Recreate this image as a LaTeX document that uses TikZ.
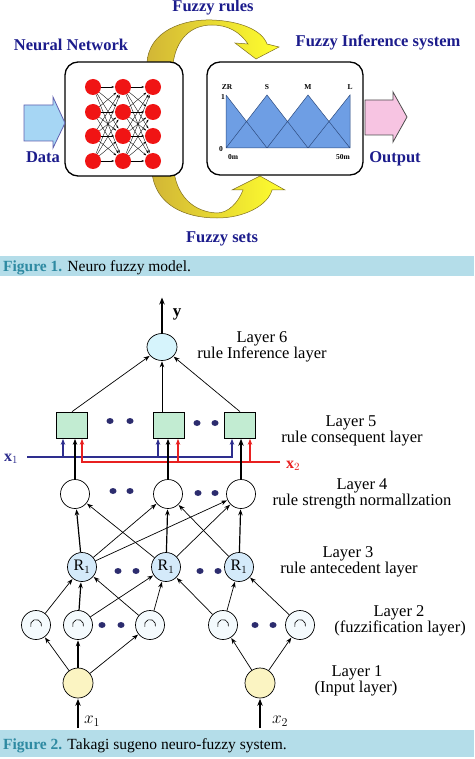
\documentclass[tikz,border=0pt]{standalone}
\usepackage{fontspec}
\setmainfont{Liberation Serif}
\usetikzlibrary{positioning,arrows.meta,shapes.geometric}

\definecolor{navy}{HTML}{1C1C8C}
\definecolor{nnred}{HTML}{F01414}
\definecolor{datablue}{HTML}{A6D6F4}
\definecolor{outpink}{HTML}{F7C4E2}
\definecolor{fzblue}{HTML}{6E9EE4}
\definecolor{fzline}{HTML}{2E4C80}
\definecolor{goldL}{HTML}{D2B636}
\definecolor{yellowR}{HTML}{FFFF2E}
\definecolor{capblue}{HTML}{B4DDE9}
\definecolor{capteal}{HTML}{2E8AA2}
\definecolor{topcyan}{HTML}{D6F4FC}
\definecolor{boxgreen}{HTML}{C2ECD2}
\definecolor{rblue}{HTML}{D4EAFA}
\definecolor{fuzwhite}{HTML}{F4FAFD}
\definecolor{inyellow}{HTML}{FBF4C2}
\definecolor{dotblue}{HTML}{2C2C6E}
\definecolor{xone}{HTML}{2E2E8E}
\definecolor{xtwo}{HTML}{E82020}

\begin{document}
\begin{tikzpicture}[x=1pt,y=-1pt,shorten >=0.5pt,
    lbl/.style={text=navy,font=\bfseries\fontsize{16.5}{16.5}\selectfont,anchor=base,inner sep=0pt},
    ltxt/.style={font=\fontsize{16.5}{16.5}\selectfont,anchor=base,inner sep=0pt},
    nbox/.style={draw,rectangle,rounded corners=13pt,line width=1.3pt,fill=white},
    rnode/.style={circle,fill=nnred,minimum size=16pt,inner sep=0pt},
    mesh/.style={-{Stealth[length=3pt,width=2pt]},line width=0.35pt},
    arr/.style={-{Stealth[length=6pt,width=4.5pt]},line width=0.7pt},
    varr/.style={arr,line width=1.2pt},
    thickarr/.style={-{Stealth[length=7pt,width=5.5pt]},line width=2pt},
    bluearr/.style={-{Stealth[length=6pt,width=4.5pt]},line width=1.1pt,draw=xone},
    redarr/.style={-{Stealth[length=6pt,width=4.5pt]},line width=1.1pt,draw=xtwo},
    l6node/.style={ellipse,draw,fill=topcyan,minimum width=30pt,minimum height=27pt,line width=0.7pt},
    l5box/.style={rectangle,draw,fill=boxgreen,minimum width=31pt,minimum height=26pt,line width=0.7pt},
    l4node/.style={circle,draw,fill=white,minimum size=29pt,inner sep=0pt,line width=0.7pt},
    l3node/.style={circle,draw,fill=rblue,minimum size=29pt,inner sep=0pt,line width=0.7pt,font=\fontsize{16}{16}\selectfont},
    l2node/.style={circle,draw,fill=fuzwhite,minimum size=29pt,inner sep=0pt,line width=0.7pt,
      path picture={\draw[line width=0.6pt] ([shift={(200:5.5pt)}]path picture bounding box.center) arc (200:-20:5.5pt);}},
    l1node/.style={circle,draw,fill=inyellow,minimum size=30pt,inner sep=0pt,line width=0.7pt},
    dotp/.style={ellipse,fill=dotblue,minimum width=7pt,minimum height=6pt,inner sep=0pt}]
  \useasboundingbox (0,0) rectangle (474,759);

  % ---------- Figure 1 ----------
  % curved arrows behind the boxes
  \shadedraw[left color=goldL,right color=yellowR,draw=goldL!60!black,line width=0.5pt]
    (147,64) .. controls (148,30) and (185,19) .. (212,20) .. controls (240,21) and (262,30) .. (267,44)
    -- (279,47) -- (256,59) -- (235,43) -- (248,44) .. controls (240,32) and (228,25) .. (212,25)
    .. controls (190,25) and (176,40) .. (173,64) -- cycle;
  \shadedraw[left color=goldL,right color=yellowR,draw=goldL!60!black,line width=0.5pt]
    (152,172) .. controls (155,205) and (185,218) .. (217,218) .. controls (245,218) and (268,205) .. (272,190)
    -- (285,190) -- (260,176) -- (232,190) -- (243,190) .. controls (238,203) and (228,213) .. (217,213)
    .. controls (195,212) and (178,198) .. (174,172) -- cycle;

  \node[nbox,minimum width=118pt,minimum height=114pt] (nnbox) at (124,119) {};
  \node[nbox,minimum width=156pt,minimum height=113pt] (fisbox) at (285,118.5) {};

  % neural network
  \foreach \c/\x in {1/93,2/123,3/153}
    \foreach \r/\y in {1/87,2/112,3/136,4/161}
      \node[rnode] (n\c\r) at (\x,\y) {};
  \foreach \r in {1,...,4}
    \foreach \s in {1,...,4} {
      \draw[mesh] (n1\r) -- (n2\s);
      \draw[mesh] (n2\r) -- (n3\s);
    }

  % membership functions
  \fill[fzblue] (226,95) -- (246.5,121.5) -- (267,95) -- (287.5,121.5) -- (308,95) -- (329,121.5)
    -- (350,95) -- (350,148) -- (226,148) -- cycle;
  \draw[fzline,line width=0.5pt] (226,95) -- (267,148) (226,148) -- (267,95) -- (308,148)
    (267,148) -- (308,95) -- (350,148) (308,148) -- (350,95) -- (350,148) -- (226,148) -- (226,95);
  \foreach \t/\x in {ZR/227,S/267,M/308,L/350}
    \node[font=\bfseries\fontsize{7.5}{7.5}\selectfont,anchor=base,inner sep=0pt] (mf\t) at (\x,90) {\t};
  \node[font=\bfseries\fontsize{7.5}{7.5}\selectfont,inner sep=0pt] (one) at (223,97) {1};
  \node[font=\bfseries\fontsize{7.5}{7.5}\selectfont,inner sep=0pt] (zero) at (221,149) {0};
  \node[font=\bfseries\fontsize{7.5}{7.5}\selectfont,inner sep=0pt] (zerom) at (233,157) {0m};
  \node[font=\bfseries\fontsize{7.5}{7.5}\selectfont,inner sep=0pt] (fiftym) at (343,157) {50m};

  % data / output arrows
  \draw[fill=datablue,draw=navy!70,line width=0.8pt] (24,105) -- (53,105) -- (53,97) -- (65,123)
    -- (53,148) -- (53,141) -- (24,141) -- cycle;
  \draw[fill=outpink,draw=black!70,line width=0.8pt] (365,100) -- (393,100) -- (393,92) -- (407,117)
    -- (393,142) -- (393,135) -- (365,135) -- cycle;

  \node[lbl] (fzrules) at (213,12) {Fuzzy rules};
  \node[lbl] (nntitle) at (71,51) {Neural Network};
  \node[lbl] (fistitle) at (378,47) {Fuzzy Inference system};
  \node[lbl] (datalbl) at (43,163) {Data};
  \node[lbl] (outlbl) at (395,163) {Output};
  \node[lbl] (fzsets) at (222,242) {Fuzzy sets};

  \fill[capblue] (0,256) rectangle (474,276);
  \node[anchor=base west,inner sep=0pt,font=\fontsize{15.5}{15.5}\selectfont] (cap1) at (3,271)
    {\textcolor{capteal}{\textbf{Figure 1.}} Neuro fuzzy model.};

  % ---------- Figure 2 ----------
  \node[l6node] (l6) at (162,347) {};
  \coordinate (yend) at (162,297);
  \draw[thickarr] (l6) -- (yend);
  \node[font=\bfseries\fontsize{17}{17}\selectfont,inner sep=0pt] (ylab) at (177,314) {y};

  \node[l5box] (b1) at (72,425) {};
  \node[l5box] (b2) at (169,425) {};
  \node[l5box] (b3) at (240,425) {};
  \path[arr] (b1.north) edge (l6)
             (l6 |- b2.north) edge (l6)
             (b3.north) edge (l6);

  % x1 and x2 into layer 5
  \coordinate (x1in) at (27,457);
  \coordinate (x2in) at (280,462);
  \draw[bluearr] (x1in) -| ([xshift=-8pt]b3.south);
  \draw[bluearr] ([xshift=-9pt]b1.south |- x1in) -- ([xshift=-9pt]b1.south);
  \draw[bluearr] ([xshift=-11pt]b2.south |- x1in) -- ([xshift=-11pt]b2.south);
  \draw[redarr] (x2in) -| ([xshift=10pt]b1.south);
  \draw[redarr] ([xshift=9pt]b2.south |- x2in) -- ([xshift=9pt]b2.south);
  \draw[redarr] ([xshift=10pt]b3.south |- x2in) -- ([xshift=10pt]b3.south);
  \node[text=xone,font=\fontsize{16}{16}\selectfont,inner sep=0pt] (x1lab) at (11,459) {$\mathbf{x}_1$};
  \node[text=xtwo,font=\fontsize{16}{16}\selectfont,inner sep=0pt] (x2lab) at (293,466) {$\mathbf{x}_2$};

  \node[l4node] (l4a) at (75,494) {};
  \node[l4node] (l4b) at (168,494) {};
  \node[l4node] (l4c) at (241,494) {};
  \draw[varr] (l4a) -- (l4a |- b1.south);
  \draw[varr] (l4b) -- (l4b |- b2.south);
  \draw[thickarr] (l4c) -- (l4c |- b3.south);

  \node[l3node] (r1) at (82,567) {R$_1$};
  \node[l3node] (r2) at (166,567) {R$_1$};
  \node[l3node] (r3) at (239,567) {R$_1$};
  \path[arr] (r1) edge (l4b) edge (l4c)
             (r2) edge (l4a) edge (l4c)
             (r3) edge (l4b);
  \path[varr] (r1) edge (l4a) (r2) edge (l4b) (r3) edge (l4c);

  \node[l2node] (f1) at (36,625) {};
  \node[l2node] (f2) at (78,625) {};
  \node[l2node] (f3) at (150,625) {};
  \node[l2node] (f4) at (223,625) {};
  \node[l2node] (f5) at (300,625) {};
  \path[arr] (f1) edge (r1)
             (f2) edge (r2)
             (f3) edge (r1) edge (r2)
             (f4) edge (r2) edge (r3)
             (f5) edge (r3);
  \path[varr] (f2) edge (r1);

  \node[l1node] (in1) at (78,683) {};
  \node[l1node] (in2) at (260,683) {};
  \path[arr] (in1) edge (f1) edge (f3)
             (in2) edge (f4) edge (f5);
  \path[varr] (in1) edge (f2);
  \coordinate (x1src) at (78,728);
  \coordinate (x2src) at (260,728);
  \draw[thickarr] (x1src) -- (in1);
  \draw[thickarr] (x2src) -- (in2);
  \node[font=\fontsize{17}{17}\selectfont,inner sep=0pt] (x1in) at (92,721) {$x_1$};
  \node[font=\fontsize{17}{17}\selectfont,inner sep=0pt] (x2in) at (280,721) {$x_2$};

  % ellipsis dots
  \foreach \x/\y [count=\i] in {110/421,130/421,197/423,215/423,113/491,130/491,198/493,215/493,
      118/571,136/571,200/571,218/571,102/625,121/625,255/625,273/625}
    \node[dotp] (dot\i) at (\x,\y) {};

  % layer captions
  \node[ltxt] (l6t) at (262,342.5) {Layer 6};
  \node[ltxt] (l6s) at (262,358) {rule Inference layer};
  \node[ltxt] (l5t) at (351,426.5) {Layer 5};
  \node[ltxt] (l5s) at (352,442) {rule consequent layer};
  \node[ltxt] (l4t) at (362,489.5) {Layer 4};
  \node[ltxt] (l4s) at (362,505) {rule strength normallzation};
  \node[ltxt] (l3t) at (348,557.5) {Layer 3};
  \node[ltxt] (l3s) at (349,573) {rule antecedent layer};
  \node[ltxt] (l2t) at (399,616.5) {Layer 2};
  \node[ltxt] (l2s) at (400,632) {(fuzzification layer)};
  \node[ltxt] (l1t) at (357,676.5) {Layer 1};
  \node[ltxt] (l1s) at (356,692) {(Input layer)};

  \fill[capblue] (0,730) rectangle (474,757);
  \node[anchor=base west,inner sep=0pt,font=\fontsize{15.5}{15.5}\selectfont] (cap2) at (3,749)
    {\textcolor{capteal}{\textbf{Figure 2.}} Takagi sugeno neuro-fuzzy system.};
\end{tikzpicture}
\end{document}
